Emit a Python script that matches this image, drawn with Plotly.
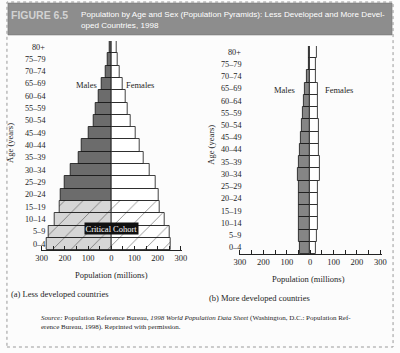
import plotly.graph_objects as go

# ---------------- data ----------------
ages = ["0–4", "5–9", "10–14", "15–19", "20–24", "25–29", "30–34", "35–39",
        "40–44", "45–49", "50–54", "55–59", "60–64", "65–69", "70–74", "75–79", "80+"]
# Less developed countries (millions)
ldc_male = [280, 270, 246, 224, 218, 203, 176, 143, 127, 98, 77, 66, 54, 41, 25, 14, 7]
ldc_female = [257, 250, 229, 208, 204, 190, 167, 141, 124, 103, 83, 70, 60, 48, 37, 27, 21]
# More developed countries (millions)
mdc_male = [45, 47, 47, 47, 50, 50, 51, 50, 46, 40, 36, 32, 29, 24, 15, 5, 5]
mdc_female = [26, 29, 32, 32, 33, 33, 40, 40, 37, 37, 35, 32, 32, 32, 25, 22, 29]
cohort_rows = 4  # 0-4 .. 15-19 form the "critical cohort"
tick_vals = [-300, -200, -100, 0, 100, 200, 300]
tick_text = ["300", "200", "100", "0", "100", "200", "300"]

W, H = 400, 353
SERIF = "Liberation Serif, Times New Roman, serif"
SANS = "Liberation Sans, Arial, sans-serif"
INK = "#1e1e1e"

def px(x):
    return x / W

def py(y):
    return 1 - y / H

idx = list(range(len(ages)))
fig = go.Figure()

line = dict(color="#111", width=0.8)
n = cohort_rows
# left pyramid: normal rows
fig.add_trace(go.Bar(y=idx[n:], x=[-v for v in ldc_male[n:]], orientation="h",
                     marker=dict(color="#6c6c6c", line=line), width=1,
                     xaxis="x", yaxis="y", showlegend=False, hoverinfo="skip"))
fig.add_trace(go.Bar(y=idx[n:], x=ldc_female[n:], orientation="h",
                     marker=dict(color="white", line=line), width=1,
                     xaxis="x", yaxis="y", showlegend=False, hoverinfo="skip"))
# left pyramid: critical cohort rows (hatched)
fig.add_trace(go.Bar(y=idx[:n], x=[-v for v in ldc_male[:n]], orientation="h",
                     marker=dict(color="#d6d6d6", line=line,
                                 pattern=dict(shape="/", fgcolor="#222", size=13, solidity=0.07)),
                     width=1, xaxis="x", yaxis="y", showlegend=False, hoverinfo="skip"))
fig.add_trace(go.Bar(y=idx[:n], x=ldc_female[:n], orientation="h",
                     marker=dict(color="white", line=line,
                                 pattern=dict(shape="/", fgcolor="#222", size=13, solidity=0.07)),
                     width=1, xaxis="x", yaxis="y", showlegend=False, hoverinfo="skip"))
# right pyramid
fig.add_trace(go.Bar(y=idx, x=[-v for v in mdc_male], orientation="h",
                     marker=dict(color="#858585", line=line), width=1,
                     xaxis="x2", yaxis="y2", showlegend=False, hoverinfo="skip"))
fig.add_trace(go.Bar(y=idx, x=mdc_female, orientation="h",
                     marker=dict(color="white", line=line), width=1,
                     xaxis="x2", yaxis="y2", showlegend=False, hoverinfo="skip"))

xcommon = dict(range=[-305, 305], tickvals=tick_vals, ticktext=tick_text,
               ticks="inside", ticklen=4, tickcolor="#222", tickwidth=1,
               minor=dict(dtick=50, tick0=0, ticks="inside", ticklen=4, tickcolor="#222"),
               showline=True, linecolor="#222", linewidth=1, showgrid=False,
               zeroline=False, tickfont=dict(family=SERIF, size=8.5, color=INK),
               fixedrange=True)
ycommon = dict(range=[-0.5, 16.5], showticklabels=False, ticks="", showgrid=False,
               zeroline=False, showline=False, fixedrange=True)

fig.update_layout(
    width=W, height=H, margin=dict(l=0, r=0, t=0, b=0),
    paper_bgcolor="#fcfcfc", plot_bgcolor="rgba(0,0,0,0)",
    barmode="overlay", bargap=0,
    xaxis=dict(domain=[px(36.5), px(181.5)], anchor="y", **xcommon),
    yaxis=dict(domain=[py(250.2), py(40.9)], anchor="x", **ycommon),
    xaxis2=dict(domain=[px(239.8), px(386.2)], anchor="y2", **xcommon),
    yaxis2=dict(domain=[py(254.1), py(45.9)], anchor="x2", **ycommon),
)

shapes = []
# page border (dotted, scanned page)
shapes.append(dict(type="rect", xref="paper", yref="paper", x0=px(2), x1=px(398),
                   y0=py(347), y1=py(2), line=dict(color="#9a9a9a", width=1, dash="dot"),
                   fillcolor="rgba(0,0,0,0)", layer="below"))
# title bar
shapes.append(dict(type="rect", xref="paper", yref="paper", x0=px(3), x1=px(397),
                   y0=py(35), y1=py(3), line=dict(color="#6e6e6e", width=0.5),
                   fillcolor="#8d8d8d", layer="below"))
fig.update_layout(shapes=shapes)


def note(text, x, y, size=8.5, color=INK, family=SERIF, xanchor="center", **kw):
    d = dict(text=text, x=px(x), y=py(y), xref="paper", yref="paper",
             xanchor=xanchor, yanchor="middle", showarrow=False,
             font=dict(family=family, size=size, color=color))
    d.update(kw)
    return d


ann = []
ann.append(note("<b>FIGURE 6.5</b>", 4, 15, size=10.5, color="#d2d2d2", family=SANS,
                xanchor="left"))
ann.append(note("Population by Age and Sex (Population Pyramids): Less Developed and More Devel-<br>oped Countries, 1998",
                76, 20.5, size=8.1, color="white", family=SANS, xanchor="left", align="left"))

# age labels
for i, a in enumerate(ages):
    ann.append(dict(text=a, x=px(43.5), y=i, xref="paper", yref="y", xanchor="right",
                    yanchor="middle", showarrow=False,
                    font=dict(family=SERIF, size=8.2, color=INK)))
    ann.append(dict(text=a, x=px(244), y=i, xref="paper", yref="y2", xanchor="right",
                    yanchor="middle", showarrow=False,
                    font=dict(family=SERIF, size=8.2, color=INK)))

for xx, yy in [(5, 143), (211, 145)]:
    ann.append(note("Age (years)", xx, yy, size=8.5, textangle=-90))

ann += [
    note("Males", 83.5, 84.5),
    note("Females", 138.5, 84.5),
    note("Males", 286.5, 90),
    note("Females", 342.5, 90),
    note("Population (millions)", 109, 274.5),
    note("Population (millions)", 311.5, 278.5),
    dict(text="Critical Cohort", x=0, y=1.3, xref="x", yref="y", showarrow=False,
         xanchor="center", yanchor="middle",
         bgcolor="#111", borderpad=0.5, font=dict(family=SERIF, size=8.5, color="white")),
    note("(a) Less developed countries", 4.5, 293.5, xanchor="left"),
    note("(b) More developed countries", 207, 297.5, xanchor="left"),
    note("<i>Source:</i> Population Reference Bureau, <i>1998 World Population Data Sheet</i> (Washington, D.C.: Population Ref-<br>erence Bureau, 1998). Reprinted with permission.",
         35, 322, size=7.0, xanchor="left", align="left"),
]
fig.update_layout(annotations=ann)

fig.write_html("out.html")
